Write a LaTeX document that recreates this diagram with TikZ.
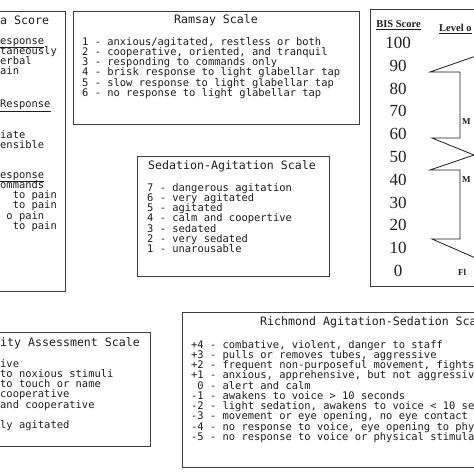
\documentclass[tikz,border=0pt]{standalone}
\usepackage{fontspec}
\setmainfont{Liberation Serif}
\setmonofont{DejaVu Sans Mono}
\usetikzlibrary{positioning}
\definecolor{boxline}{HTML}{3C3C3C}
\definecolor{ink}{HTML}{1E1E1E}
\newcommand{\tightlines}{\lineskiplimit=-20pt\relax}

\begin{document}
\begin{tikzpicture}[
  x=1pt, y=-1pt,
  scalebox/.style={draw=boxline, line width=0.9pt, inner sep=0pt, anchor=north west},
  scaletitle/.style={font=\ttfamily\fontsize{11.6}{13}\selectfont, inner sep=0pt, text=ink},
  scaleitems/.style={font=\ttfamily\fontsize{10.45}{10.25}\selectfont\tightlines,
    align=left, inner sep=0pt, anchor=north west, text=ink},
  bisnum/.style={font=\fontsize{17}{17}\selectfont, inner sep=0pt, text=ink},
  bishead/.style={font=\bfseries\fontsize{10.5}{12}\selectfont, inner sep=0pt, text=ink},
  bisline/.style={draw=ink, line width=0.8pt}
]

\useasboundingbox (0,0) rectangle (474,474);
\clip (0,0) rectangle (474,474);
\fill[white] (0,0) rectangle (474,474);

% the five scale boxes, cut by the page edge
\node[scalebox, minimum width=70pt, minimum height=280pt] (gcs) at (-5,11) {};
\node[scalebox, minimum width=286pt, minimum height=113pt] (ramsay) at (73,11) {};
\node[scalebox, minimum width=192pt, minimum height=120pt] (sas) at (137,156) {};
\node[scalebox, minimum width=120pt, minimum height=277pt] (bis) at (370,9) {};
\node[scalebox, minimum width=300pt, minimum height=155pt] (rass) at (182,312) {};
\node[scalebox, minimum width=155pt, minimum height=114pt] (maas) at (-5,332) {};

% Glasgow
\node[scaletitle, anchor=west] (gcstitle) at (0,20) {a Score};
\node[scaleitems] (gcseye) at (0,38) {
  \underline{esponse}\\
  taneously\\
  erbal\\
  ain};
\node[scaleitems] (gcsverbal) at (0,100) {
  \underline{Response}\\
  \\
  \\
  iate\\
  ensible};
\node[scaleitems] (gcsmotor) at (0,172) {
  \underline{esponse}\\
  ommands\\
  \hphantom{xx}to pain\\
  \hphantom{xx}to pain\\
  \hphantom{x}o pain\\
  \hphantom{xx}to pain};

% Ramsay
\node[scaletitle] (ramsaytitle) at (216,20) {Ramsay Scale};
\node[scaleitems] (ramsayitems) at (82,37) {
  1 - anxious/agitated, restless or both\\
  2 - cooperative, oriented, and tranquil\\
  3 - responding to commands only\\
  4 - brisk response to light glabellar tap\\
  5 - slow response to light glabellar tap\\
  6 - no response to light glabellar tap};

% Sedation-Agitation
\node[scaletitle, anchor=west] (sastitle) at (148,166) {Sedation-Agitation Scale};
\node[scaleitems] (sasitems) at (147,183) {
  7 - dangerous agitation\\
  6 - very agitated\\
  5 - agitated\\
  4 - calm and coopertive\\
  3 - sedated\\
  2 - very sedated\\
  1 - unarousable};

% BIS
\node[bishead] (bishead) at (398.5,25) {\underline{BIS Score}};
\node[bishead, anchor=west] (levelhead) at (439,29) {\underline{Level o}};
\foreach \v [count=\i from 0] in {100,90,...,0}
  \node[bisnum] (bis\v) at (398,43+22.8*\i) {\v};
\draw[bisline] (480,54.6) -- (430,72) -- (460,72) -- (460,138) -- (432,138)
  -- (474,155) -- (430,170) -- (460,170) -- (460,239) -- (432,239) -- (480,260);
\node[bishead, font=\bfseries\fontsize{9}{10}\selectfont, anchor=west] (modone) at (462,122) {M};
\node[bishead, font=\bfseries\fontsize{9}{10}\selectfont, anchor=west] (modtwo) at (462,180) {M};
\node[bishead, font=\bfseries\fontsize{9}{10}\selectfont, anchor=west] (flat) at (458,272) {Fl};

% Richmond
\node[scaletitle, anchor=west] (rasstitle) at (260,322) {Richmond Agitation-Sedation Sca};
\node[scaleitems] (rassitems) at (191,340) {
  +4 - combative, violent, danger to staff\\
  +3 - pulls or removes tubes, aggressive\\
  +2 - frequent non-purposeful movement, fights\\
  +1 - anxious, apprehensive, but not aggressiv\\
  \hphantom{+}0 - alert and calm\\
  -1 - awakens to voice > 10 seconds\\
  -2 - light sedation, awakens to voice < 10 se\\
  -3 - movement or eye opening, no eye contact\\
  -4 - no response to voice, eye opening to phy\\
  -5 - no response to voice or physical stimula};

% Motor Activity
\node[scaletitle, anchor=west] (maastitle) at (0,343) {ity Assessment Scale};
\node[scaleitems] (maasitems) at (0,359) {
  ive\\
  to noxious stimuli\\
  to touch or name\\
  cooperative\\
  and cooperative\\
  \\
  ly agitated};

\end{tikzpicture}
\end{document}
